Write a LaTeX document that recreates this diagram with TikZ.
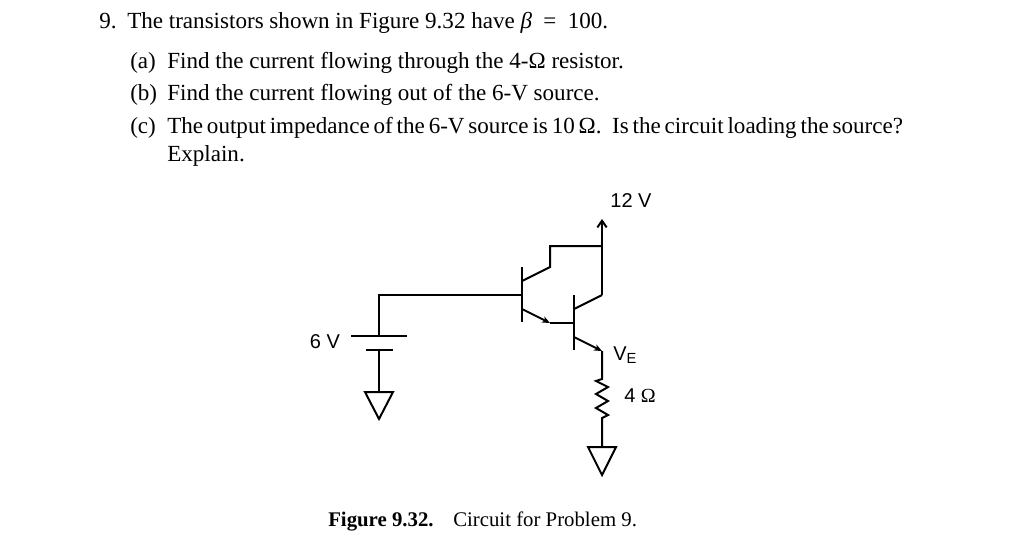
\documentclass[tikz,border=0pt]{standalone}
\usepackage{fontspec}
\setmainfont{Liberation Serif}
\setsansfont{Liberation Sans}
\usetikzlibrary{arrows.meta}
\tikzset{
  bodytext/.style={anchor=base west, inner sep=0pt, font=\fontsize{17.3}{19}\selectfont},
  captext/.style={anchor=base west, inner sep=0pt, font=\fontsize{15.6}{18}\selectfont},
  circuittext/.style={inner sep=0pt, font=\sffamily\fontsize{15}{16}\selectfont},
  wire/.style={line width=1.5pt, line join=miter},
  emitter/.style={wire, -{Stealth[length=6pt,width=5pt]}},
}
\begin{document}
\begin{tikzpicture}[x=0.75pt,y=-0.75pt]
  \useasboundingbox (0,0) rectangle (1024,553);

  % Problem text
  \node[bodytext] (num) at (99,28) {9.};
  \node[bodytext] (stem) at (127,28) {The transistors shown in Figure 9.32 have \textit{β}\hspace{8.5pt}=\hspace{8.5pt}100.};
  \node[bodytext] (la) at (130,68) {(a)};
  \node[bodytext] (ta) at (167,68) {Find the current flowing through the 4-Ω resistor.};
  \node[bodytext] (lb) at (130,100) {(b)};
  \node[bodytext] (tb) at (167,100) {Find the current flowing out of the 6-V source.};
  \node[bodytext] (lc) at (130,133) {(c)};
  \node[bodytext] (tc) at (167,133) {\spaceskip=2.9pt The output impedance of the 6-V source is 10 Ω.\hspace{5pt} Is the circuit loading the source?};
  \node[bodytext] (td) at (167,161) {Explain.};

  % Define the coordinates for the transistors
  \coordinate (Q1B) at (522,295);
  \coordinate (Q1top) at (522,267);
  \coordinate (Q1bot) at (522,322);
  \coordinate (Q1Cin) at (522,281);
  \coordinate (Q1Cout) at (550,267);
  \coordinate (Q1Cup) at (550,246);
  \coordinate (Q1Ein) at (522,309);
  \coordinate (Q1E) at (550,323);
  \coordinate (Q2B) at (574,323);
  \coordinate (Q2top) at (574,295);
  \coordinate (Q2bot) at (574,350);
  \coordinate (Q2Cin) at (574,309);
  \coordinate (Q2C) at (602,295);
  \coordinate (Q2Ein) at (574,337);
  \coordinate (Q2E) at (602,351);

  % Define the coordinates for the rails
  \coordinate (VCC) at (602,219);
  \coordinate (rail) at (602,246);
  \coordinate (Rtop) at (602,379);
  \coordinate (Rbot) at (602,420);
  \coordinate (gndR) at (602,447);
  \coordinate (corner) at (379,295);
  \coordinate (plateA) at (379,336);
  \coordinate (plateB) at (379,350);
  \coordinate (gndV) at (379,392);

  % Draw the transistors
  \draw[wire] (Q1top) -- (Q1bot);
  \draw[wire] (Q2top) -- (Q2bot);
  \draw[wire] (Q1Cin) -- (Q1Cout) -- (Q1Cup) -- (rail);
  \draw[wire] (Q2Cin) -- (Q2C);
  \draw[emitter] (Q1Ein) -- (Q1E);
  \draw[wire] (Q1E) -- (Q2B);
  \draw[emitter] (Q2Ein) -- (Q2E);

  % Draw the supply, the base line and the source
  \draw[wire, -{Straight Barb[length=5pt,width=7pt]}] (Q2C) -- (VCC);
  \draw[wire] (Q1B) -- (corner) -- (plateA);
  \draw[wire] (351,336) -- (407,336);
  \draw[wire] (366,350) -- (393,350);
  \draw[wire] (plateB) -- (gndV);
  \draw[wire] (365,392) -- (393,392) -- (379,419) -- cycle;

  % Draw the resistor and its ground
  \draw[wire] (Q2E) -- (Rtop) -- (596,381) -- (608,387) -- (596,394) -- (608,401)
    -- (596,408) -- (608,415) -- (602,418) -- (Rbot) -- (gndR);
  \draw[wire] (588,447) -- (616,447) -- (602,475) -- cycle;

  % Labels
  \node[circuittext] (l12) at (631,200.5) {12 V};
  \node[circuittext] (l6) at (325,341.5) {6 V};
  \node[circuittext, anchor=base west] (lVE) at (613,360) {V\raisebox{-2.5pt}{\fontsize{11}{11}\selectfont E}};
  \node[circuittext, anchor=base west] (l4) at (624,402) {4 \rmfamily Ω};

  % Caption
  \node[captext] (figno) at (328,526) {\textbf{Figure 9.32.}};
  \node[captext] (figcap) at (453,526) {Circuit for Problem 9.};
\end{tikzpicture}
\end{document}
